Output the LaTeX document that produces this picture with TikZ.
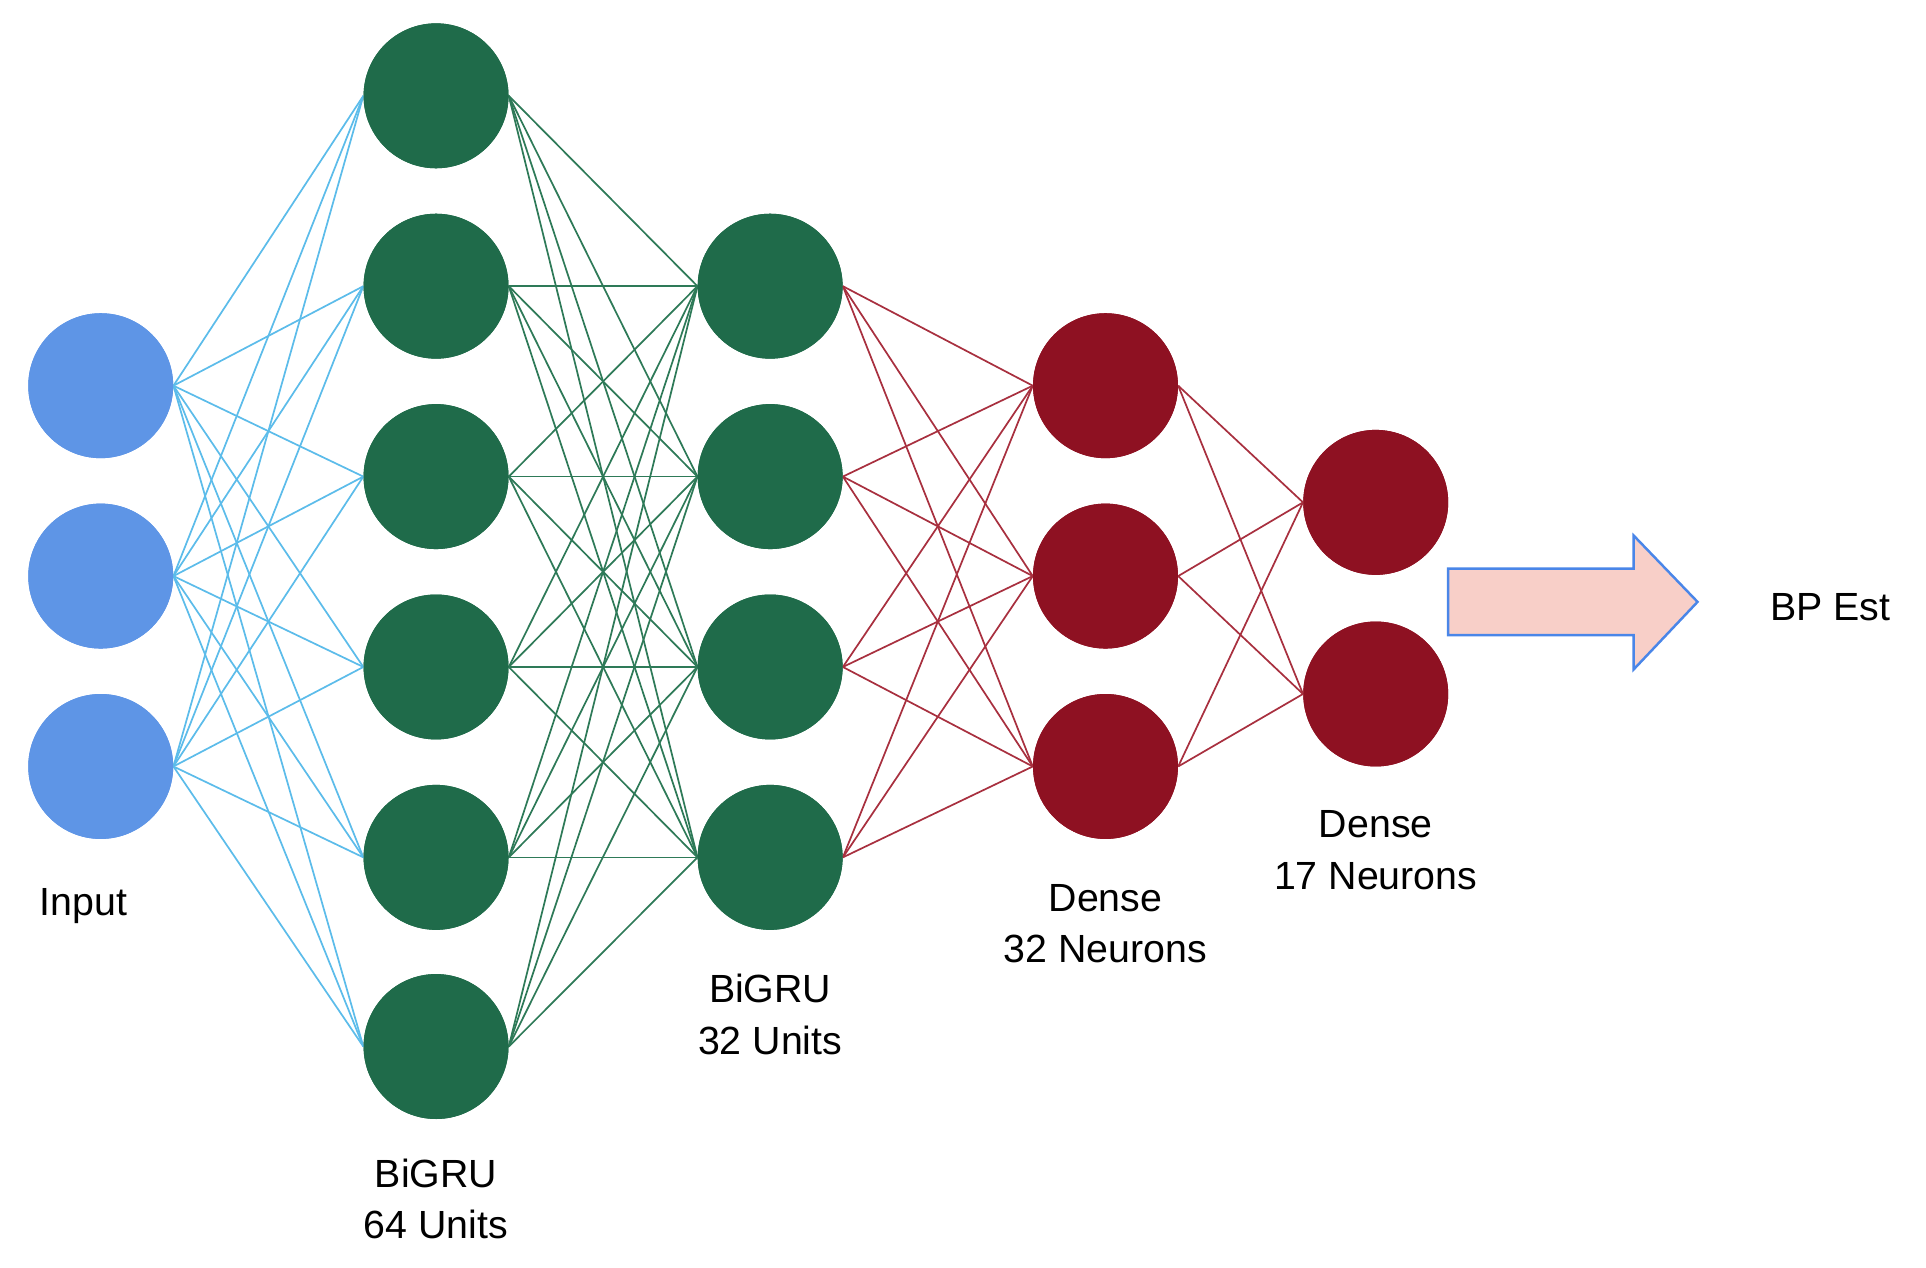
\documentclass[tikz,border=0pt]{standalone}
\usepackage{fontspec}
\setmainfont{Liberation Sans}
\begin{document}
\begin{tikzpicture}[x=1pt,y=-1pt,
 neu/.style={circle,minimum size=118pt,inner sep=0pt,draw=none},
 inp/.style={neu,fill=blue1},
 gru/.style={neu,fill=green1},
 den/.style={neu,fill=red1},
 lab/.style={align=center,font=\fontsize{32}{42}\selectfont},
 eb/.style={draw=lblue,line width=1.4pt},
 eg/.style={draw=lgreen,line width=1.4pt},
 er/.style={draw=lred,line width=1.4pt}]
\definecolor{blue1}{HTML}{5E95E6}
\definecolor{green1}{HTML}{1F6B4A}
\definecolor{red1}{HTML}{8E1122}
\definecolor{lblue}{HTML}{5CBCEA}
\definecolor{lgreen}{HTML}{2E7A58}
\definecolor{lred}{HTML}{A8303F}
\definecolor{pinkf}{HTML}{F8CFC8}
\definecolor{arrb}{HTML}{4A86E8}
\useasboundingbox (0,0) rectangle (1568,1032);
\foreach \i/\y in {1/314,2/469,3/624} \node[inp] (i\i) at (82,\y) {};
\foreach \i/\y in {1/78,2/233,3/388,4/543,5/698,6/852} \node[gru] (a\i) at (355,\y) {};
\foreach \i/\y in {1/233,2/388,3/543,4/698} \node[gru] (b\i) at (627,\y) {};
\foreach \i/\y in {1/314,2/469,3/624} \node[den] (c\i) at (900,\y) {};
\foreach \i/\y in {1/409,2/565} \node[den] (d\i) at (1120,\y) {};
\begin{scope}[on background layer/.try]
\foreach \i in {1,2,3} \foreach \j in {1,...,6} \draw[eb] (i\i.east) -- (a\j.west);
\foreach \i in {1,...,6} \foreach \j in {1,...,4} \draw[eg] (a\i.east) -- (b\j.west);
\foreach \i in {1,...,4} \foreach \j in {1,2,3} \draw[er] (b\i.east) -- (c\j.west);
\foreach \i in {1,2,3} \foreach \j in {1,2} \draw[er] (c\i.east) -- (d\j.west);
\end{scope}
\foreach \i in {1,2,3} \node[inp] at (i\i) {};
\foreach \i in {1,...,6} \node[gru] at (a\i) {};
\foreach \i in {1,...,4} \node[gru] at (b\i) {};
\foreach \i in {1,2,3} \node[den] at (c\i) {};
\foreach \i in {1,2} \node[den] at (d\i) {};
\draw[fill=pinkf,draw=arrb,line width=2pt,line join=miter]
 (1179,463) -- (1330,463) -- (1330,436) -- (1382,490) -- (1330,545) -- (1330,517) -- (1179,517) -- cycle;
\node[lab] (li) at (68,738) {Input};
\node[lab] (la) at (355,976) {BiGRU\\64 Units};
\node[lab] (lb) at (627,826) {BiGRU\\32 Units};
\node[lab] (lc) at (900,752) {Dense\\32 Neurons};
\node[lab] (ld) at (1120,692) {Dense\\17 Neurons};
\node[lab] (lo) at (1490,494) {BP Est};
\end{tikzpicture}
\end{document}
